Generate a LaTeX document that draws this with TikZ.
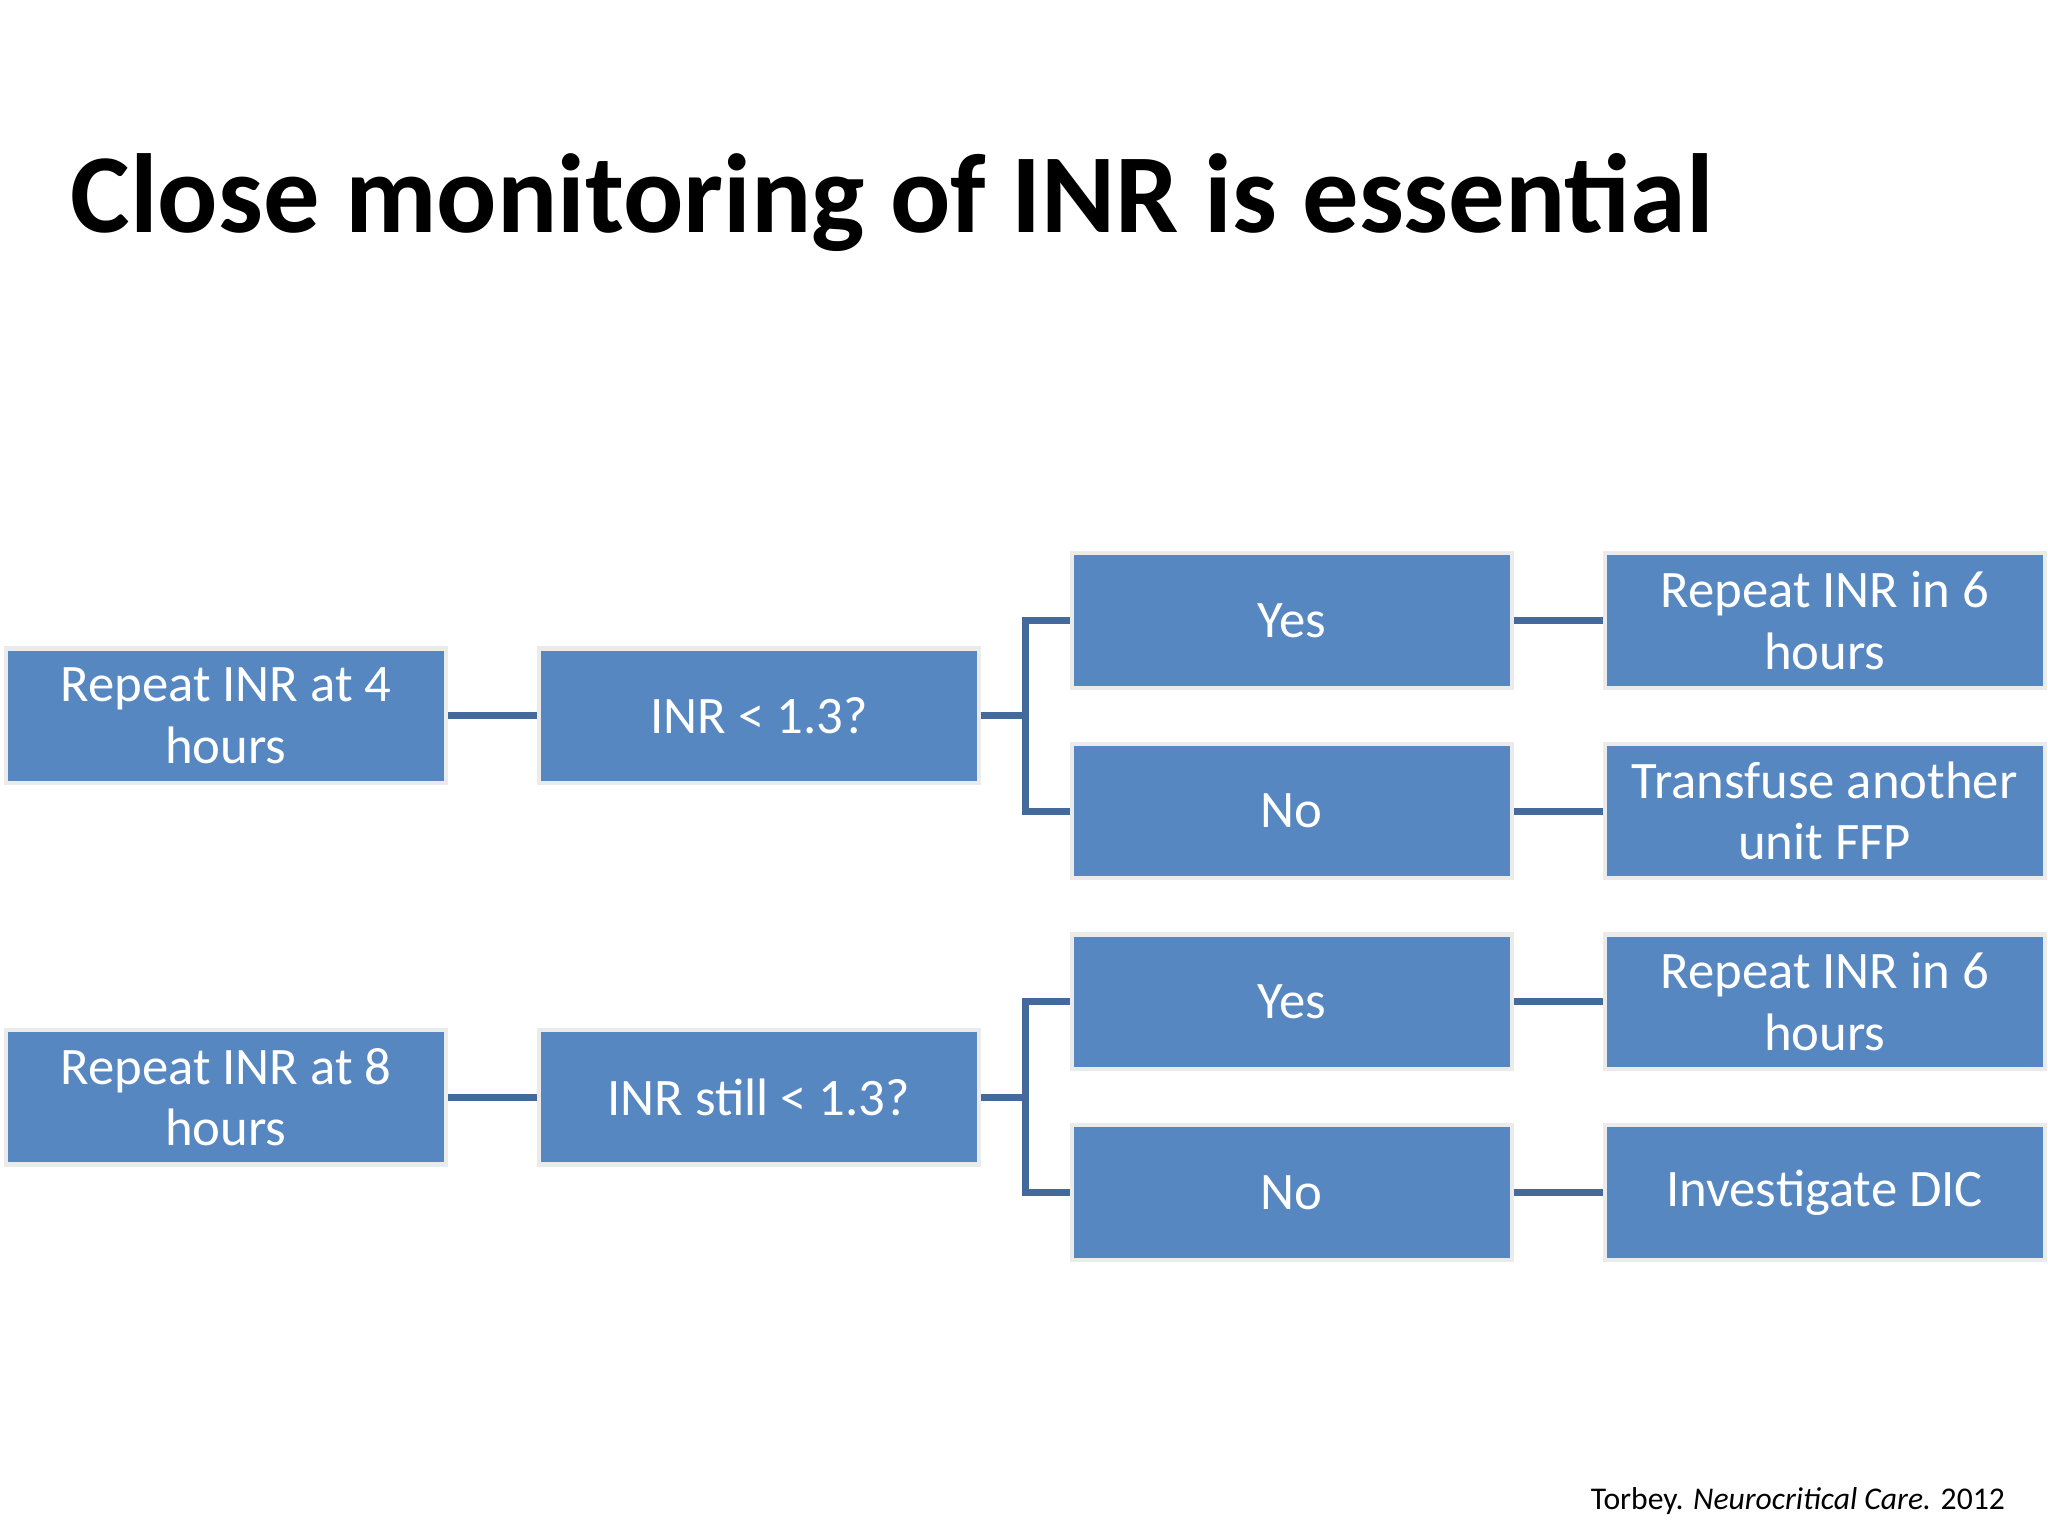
\documentclass[tikz,border=0pt]{standalone}
\usepackage{fontspec}
\setmainfont{Carlito}
\usepackage[dvipsnames]{xcolor}
\definecolor{boxblue}{HTML}{5787C1}
\definecolor{lineblue}{HTML}{44699B}
\begin{document}
\begin{tikzpicture}[x=0.01306cm,y=-0.01306cm,thick,
    step box/.style={rectangle,draw=black!8,line width=1.2pt,fill=boxblue,text=white,minimum width=4.4cm,minimum height=1.345cm,align=center,font=\fontsize{15}{17.5}\selectfont,inner sep=1pt},
    link/.style={draw=lineblue,line width=2pt}]
\useasboundingbox (0,0) rectangle (1568,1176);
\node[anchor=west,font=\fontsize{32}{36}\selectfont\bfseries] (title) at (44,155) {Close monitoring of INR is essential};
% first check
\node[step box] (a1) at (173,548) {Repeat INR at 4\\hours};
\node[step box] (b1) at (581,548) {INR < 1.3?};
\node[step box] (yes1) at (989,475) {Yes};
\node[step box] (no1) at (989,621) {No};
\node[step box] (d1) at (1397,475) {Repeat INR in 6\\hours};
\node[step box] (d2) at (1397,621) {Transfuse another\\unit FFP};
% second check
\node[step box] (a2) at (173,840) {Repeat INR at 8\\hours};
\node[step box] (b2) at (581,840) {INR still < 1.3?};
\node[step box] (yes2) at (989,767) {Yes};
\node[step box] (no2) at (989,913) {No};
\node[step box] (d3) at (1397,767) {Repeat INR in 6\\hours};
\node[step box] (d4) at (1397,913) {Investigate DIC};
\coordinate (j1) at (785,548);
\coordinate (j2) at (785,840);
\path[link]
    (a1) -- (b1) (b1.east) -- (j1) (j1) |- (yes1.west) (j1) |- (no1.west)
    (yes1) -- (d1) (no1) -- (d2)
    (a2) -- (b2) (b2.east) -- (j2) (j2) |- (yes2.west) (j2) |- (no2.west)
    (yes2) -- (d3) (no2) -- (d4);
\node[anchor=east,font=\fontsize{9}{11}\selectfont] (cite) at (1545,1149) {Torbey. \textit{Neurocritical Care.} 2012};
\end{tikzpicture}
\end{document}
